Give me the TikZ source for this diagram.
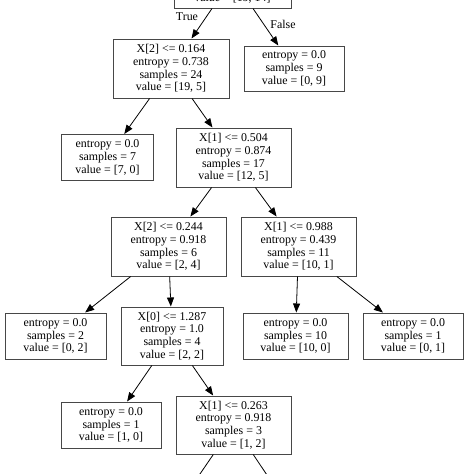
\documentclass[tikz,border=0pt]{standalone}
\usepackage{fontspec}
\setmainfont{Liberation Serif}
\usetikzlibrary{arrows.meta}
\tikzset{
  treebox/.style={draw=black!72, line width=1pt, align=center, inner sep=0pt, fill=white,
    font=\fontsize{11.9}{12.8}\selectfont},
  split/.style={treebox, minimum width=115pt, minimum height=59pt},
  leaf/.style={treebox, minimum width=100pt, minimum height=46pt},
  treeedge/.style={draw=black, line width=0.8pt, -{Triangle[length=9pt,width=7pt]}},
  lbl/.style={font=\fontsize{11.9}{12.8}\selectfont, inner sep=0pt}
}
\begin{document}
\begin{tikzpicture}[x=1pt,y=-1pt]
\clip (0,0) rectangle (474,474);
\fill[white] (0,0) rectangle (474,474);
% nodes
\node[split, minimum width=117pt] (root) at (232.5,-21.5) {};
\node[lbl, anchor=base] (rootval) at (232.5,1) {value = [19, 14]};
\node[split, minimum width=116pt] (n2) at (171,68.5) {X[2] <= 0.164\\entropy = 0.738\\samples = 24\\value = [19, 5]};
\node[leaf, minimum height=45pt] (lf9) at (294,68.5) {entropy = 0.0\\samples = 9\\value = [0, 9]};
\node[leaf, minimum width=92pt] (lf7) at (107.5,157.5) {entropy = 0.0\\samples = 7\\value = [7, 0]};
\node[split] (n3) at (233.5,157.5) {X[1] <= 0.504\\entropy = 0.874\\samples = 17\\value = [12, 5]};
\node[split] (n4) at (168.5,246.5) {X[2] <= 0.244\\entropy = 0.918\\samples = 6\\value = [2, 4]};
\node[split] (n5) at (298.5,246.5) {X[1] <= 0.988\\entropy = 0.439\\samples = 11\\value = [10, 1]};
\node[leaf, minimum width=101pt] (lf2) at (55.5,336) {entropy = 0.0\\samples = 2\\value = [0, 2]};
\node[split, minimum width=102pt, minimum height=58pt] (n6) at (172,336) {X[0] <= 1.287\\entropy = 1.0\\samples = 4\\value = [2, 2]};
\node[leaf, minimum width=105pt] (lf10) at (295.5,336) {entropy = 0.0\\samples = 10\\value = [10, 0]};
\node[leaf] (lf1) at (413,336) {entropy = 0.0\\samples = 1\\value = [0, 1]};
\node[leaf] (lf1b) at (111,425) {entropy = 0.0\\samples = 1\\value = [1, 0]};
\node[split, minimum height=58pt] (n7) at (233.5,425) {X[1] <= 0.263\\entropy = 0.918\\samples = 3\\value = [1, 2]};
\coordinate (offl) at (189,490);
\coordinate (offr) at (277,490);
% edges
\draw[treeedge] (root) -- (n2);
\draw[treeedge] (root) -- (lf9);
\draw[treeedge] (n2) -- (lf7);
\draw[treeedge] (n2) -- (n3);
\draw[treeedge] (n3) -- (n4);
\draw[treeedge] (n3) -- (n5);
\draw[treeedge] (n4) -- (lf2);
\draw[treeedge] (n4) -- (n6);
\draw[treeedge] (n5) -- (lf10);
\draw[treeedge] (n5) -- (lf1);
\draw[treeedge] (n6) -- (lf1b);
\draw[treeedge] (n6) -- (n7);
\draw[treeedge] (n7) -- (offl);
\draw[treeedge] (n7) -- (offr);
% edge labels
\node[lbl] (ltrue) at (187,17) {True};
\node[lbl] (lfalse) at (283,24) {False};
\end{tikzpicture}
\end{document}
